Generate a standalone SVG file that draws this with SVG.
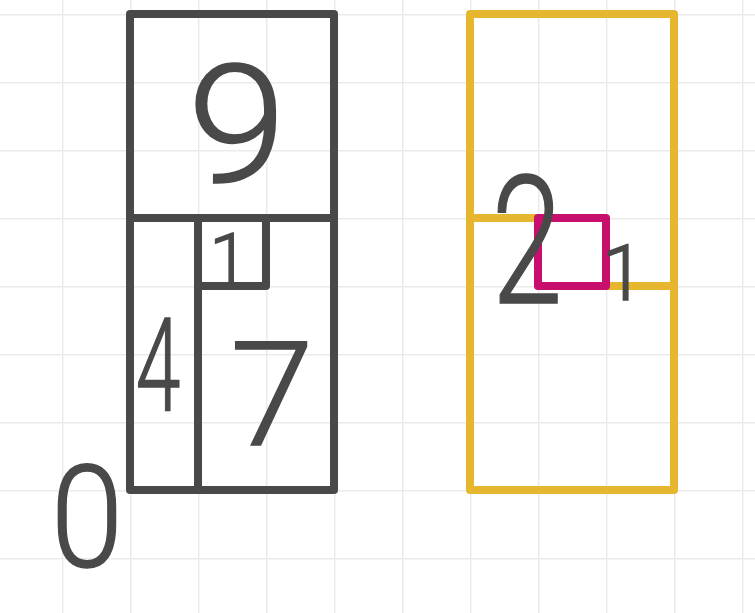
<svg xmlns="http://www.w3.org/2000/svg" width="755" height="613" viewBox="0 0 755 613">
<defs>
<pattern id="grid" x="62" y="14" width="68" height="68" patternUnits="userSpaceOnUse">
<path d="M0 0 V68 M0 0 H68" fill="none" stroke="#ebebeb" stroke-width="3"/>
</pattern>
<style>
.dk{fill:none;stroke:#494949;stroke-width:8;stroke-linejoin:round;stroke-linecap:round}
.yl{fill:none;stroke:#e6b62e;stroke-width:8;stroke-linejoin:round;stroke-linecap:round}
.pk{fill:none;stroke:#c80f6e;stroke-width:8;stroke-linejoin:round;stroke-linecap:round}
.hw{fill:#494949;stroke:#494949;stroke-width:1.5;font-family:"Roboto","Open Sans","DejaVu Sans",sans-serif;font-weight:300;text-anchor:middle}
</style>
</defs>
<rect width="755" height="613" fill="#ffffff"/>
<rect width="755" height="613" fill="url(#grid)"/>
<g id="left-block">
<rect class="dk" x="130" y="14" width="204" height="476"/>
<line class="dk" x1="130" y1="218" x2="334" y2="218"/>
<line class="dk" x1="198" y1="218" x2="198" y2="490"/>
<polyline class="dk" points="198,286 266,286 266,218"/>
</g>
<g id="right-block">
<rect class="yl" x="470" y="14" width="204" height="476"/>
<line class="yl" x1="470" y1="218" x2="538" y2="218"/>
<line class="yl" x1="606" y1="286" x2="674" y2="286"/>
<rect id="pink-square" class="pk" x="538" y="218" width="68" height="68"/>
</g>
<g id="labels">
<text class="hw" transform="translate(237,182) scale(1.08,1)" font-size="166">9</text>
<text class="hw" x="229" y="283" font-size="70">1</text>
<text class="hw" transform="translate(158,410) scale(0.62,1)" font-size="130">4</text>
<text class="hw" transform="translate(272,445) scale(1.05,1)" font-size="144">7</text>
<text class="hw" transform="translate(87,567) scale(0.92,1)" font-size="142">0</text>
<text class="hw" transform="translate(527,303) scale(0.72,1)" font-size="178">2</text>
<text class="hw" x="623" y="300" font-size="77">1</text>
</g>
</svg>
